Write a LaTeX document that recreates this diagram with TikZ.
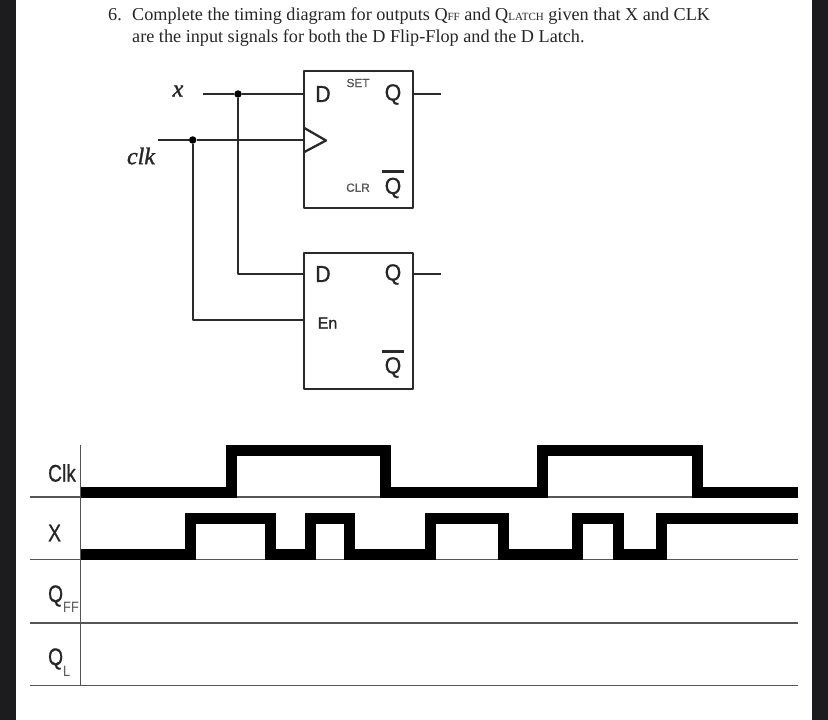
\documentclass[tikz,border=0pt]{standalone}
\usepackage{fontspec}
\setmainfont{Liberation Serif}
\setsansfont{Liberation Sans}
\newfontfamily\pinfont[RawFeature={embolden=1.2}]{Liberation Sans}
\newfontfamily\smallpinfont[RawFeature={embolden=0.8}]{Liberation Sans}
\newfontfamily\handfont[RawFeature={embolden=1.2},Ligatures=TeX]{Liberation Serif Italic}
\definecolor{ink}{HTML}{262626}
\definecolor{rule}{HTML}{555555}
\definecolor{wire}{HTML}{2A2A2A}
\definecolor{edgebar}{HTML}{1C1C1E}
\tikzset{
  para/.style={anchor=base west,inner sep=0pt,text=ink,font=\fontsize{18.2}{20}\selectfont},
  blockbox/.style={draw=wire,line width=2.3pt,rectangle,minimum width=109pt,inner sep=0pt,line join=round},
  wireline/.style={draw=wire,line width=2.3pt,line join=round},
  pinbig/.style={text=ink,inner sep=0pt,xscale=.92,font=\pinfont\fontsize{23}{23}\selectfont},
  pinsmall/.style={text=rule,inner sep=0pt,font=\smallpinfont\fontsize{11.8}{12}\selectfont},
  pinen/.style={text=ink,inner sep=0pt,font=\smallpinfont\fontsize{16}{16}\selectfont},
  barq/.style={draw=wire,line width=2.4pt},
  hand/.style={text=ink,inner sep=0pt,font=\handfont\fontsize{24}{24}\selectfont},
  dotj/.style={circle,fill=black,inner sep=0pt,minimum size=7.5pt},
  wave/.style={draw=black,line width=11pt,line join=miter,line cap=butt},
  grid/.style={draw=rule,line width=1.2pt},
  siglabel/.style={text=ink,inner sep=0pt,xscale=.8,font=\smallpinfont\fontsize{24}{24}\selectfont},
  sigsub/.style={text=rule,inner sep=0pt,xscale=.86,font=\sffamily\fontsize{15}{15}\selectfont},
}
\begin{document}
\begin{tikzpicture}[x=1pt,y=-1pt]
\useasboundingbox (0,0) rectangle (828,720);
\fill[white] (0,0) rectangle (828,720);
\fill[edgebar] (0,0) rectangle (16,720);
\fill[edgebar] (812,0) rectangle (828,720);
% question text
\node[para] (num) at (108,20) {6.};
\node[para] (line1) at (132,20) {Complete the timing diagram for outputs Q{\fontsize{11}{11}\selectfont FF} and Q{\fontsize{11}{11}\selectfont LATCH} given that X and CLK};
\node[para] (line2) at (132,42.5) {are the input signals for both the D Flip-Flop and the D Latch.};
% blocks
\node[blockbox,minimum height=137pt] (ff) at (358.8,139.8) {};
\node[blockbox,minimum height=136pt] (latch) at (358.8,320.8) {};
% pins
\coordinate (xin) at (203,94);
\coordinate (ckin) at (158,140);
\coordinate (ffD) at (ff.west |- xin);
\coordinate (ffC) at (ff.west |- ckin);
\coordinate (ffQ) at (ff.east |- xin);
\coordinate (ffQo) at (441,94);
\coordinate (laD) at (304.3,274);
\coordinate (laE) at (304.3,320);
\coordinate (laQ) at (413.3,274);
\coordinate (laQo) at (441,274);
\coordinate (tipa) at (304.3,128);
\coordinate (tipb) at (326,140.5);
\coordinate (tipc) at (304.3,152);
\node[dotj] (jx) at (238,94) {};
\node[dotj] (jc) at (192.7,140) {};
\draw[wireline] (xin) -- (jx) -- (ffD);
\draw[wireline] (ckin) -- (jc) -- (ffC);
\draw[wireline] (jx) |- (laD);
\draw[wireline] (jc) |- (laE);
\draw[wireline] (ffQ) -- (ffQo);
\draw[wireline] (laQ) -- (laQo);
\draw[wireline] (tipa) -- (tipb) -- (tipc);
% labels of the blocks
\node[pinbig] (fd) at (323,94) {D};
\node[pinsmall] (fset) at (358,83) {SET};
\node[pinbig] (fq) at (393,94.5) {Q};
\node[pinsmall] (fclr) at (358,187.7) {CLR};
\node[pinbig] (fqb) at (393,188) {Q};
\draw[barq] (381.5,171.5) -- (403.5,171.5);
\node[pinbig] (ld) at (323,274) {D};
\node[pinbig] (lq) at (393,274.5) {Q};
\node[pinen] (len) at (327.5,323) {En};
\node[pinbig] (lqb) at (393,367.5) {Q};
\draw[barq] (381.5,351.5) -- (403.5,351.5);
\node[hand] (xl) at (178,91) {x};
\node[hand] (cl) at (141,156) {clk};
% timing grid
\draw[grid] (80.5,445) -- (80.5,686);
\draw[grid] (30,497) -- (797.7,497);
\draw[grid] (30,559.5) -- (797.7,559.5);
\draw[grid] (30,623) -- (797.7,623);
\draw[grid] (30,685.5) -- (797.7,685.5);
% waveforms
\draw[wave] (81,492.2) -| (231,450.2) -| (385,492.2) -| (542,450.2) -| (697,492.2) -- (797.7,492.2);
\draw[wave] (81,554.3) -| (190,518) -| (270,554.3) -| (310,518) -| (349,554.3) -| (430,518) -| (503,554.3) -| (577,518) -| (618.5,554.3) -| (661,518) -- (797.7,518);
% signal names
\node[siglabel,anchor=west] (sclk) at (48,473) {Clk};
\node[siglabel,anchor=west] (sx) at (48,533) {X};
\node[siglabel,anchor=west] (sq) at (48,596) {Q};
\node[sigsub,anchor=west] (sff) at (63,607) {FF};
\node[siglabel,anchor=west] (sl) at (48,659) {Q};
\node[sigsub,anchor=west] (sll) at (63,671) {L};
\end{tikzpicture}
\end{document}
